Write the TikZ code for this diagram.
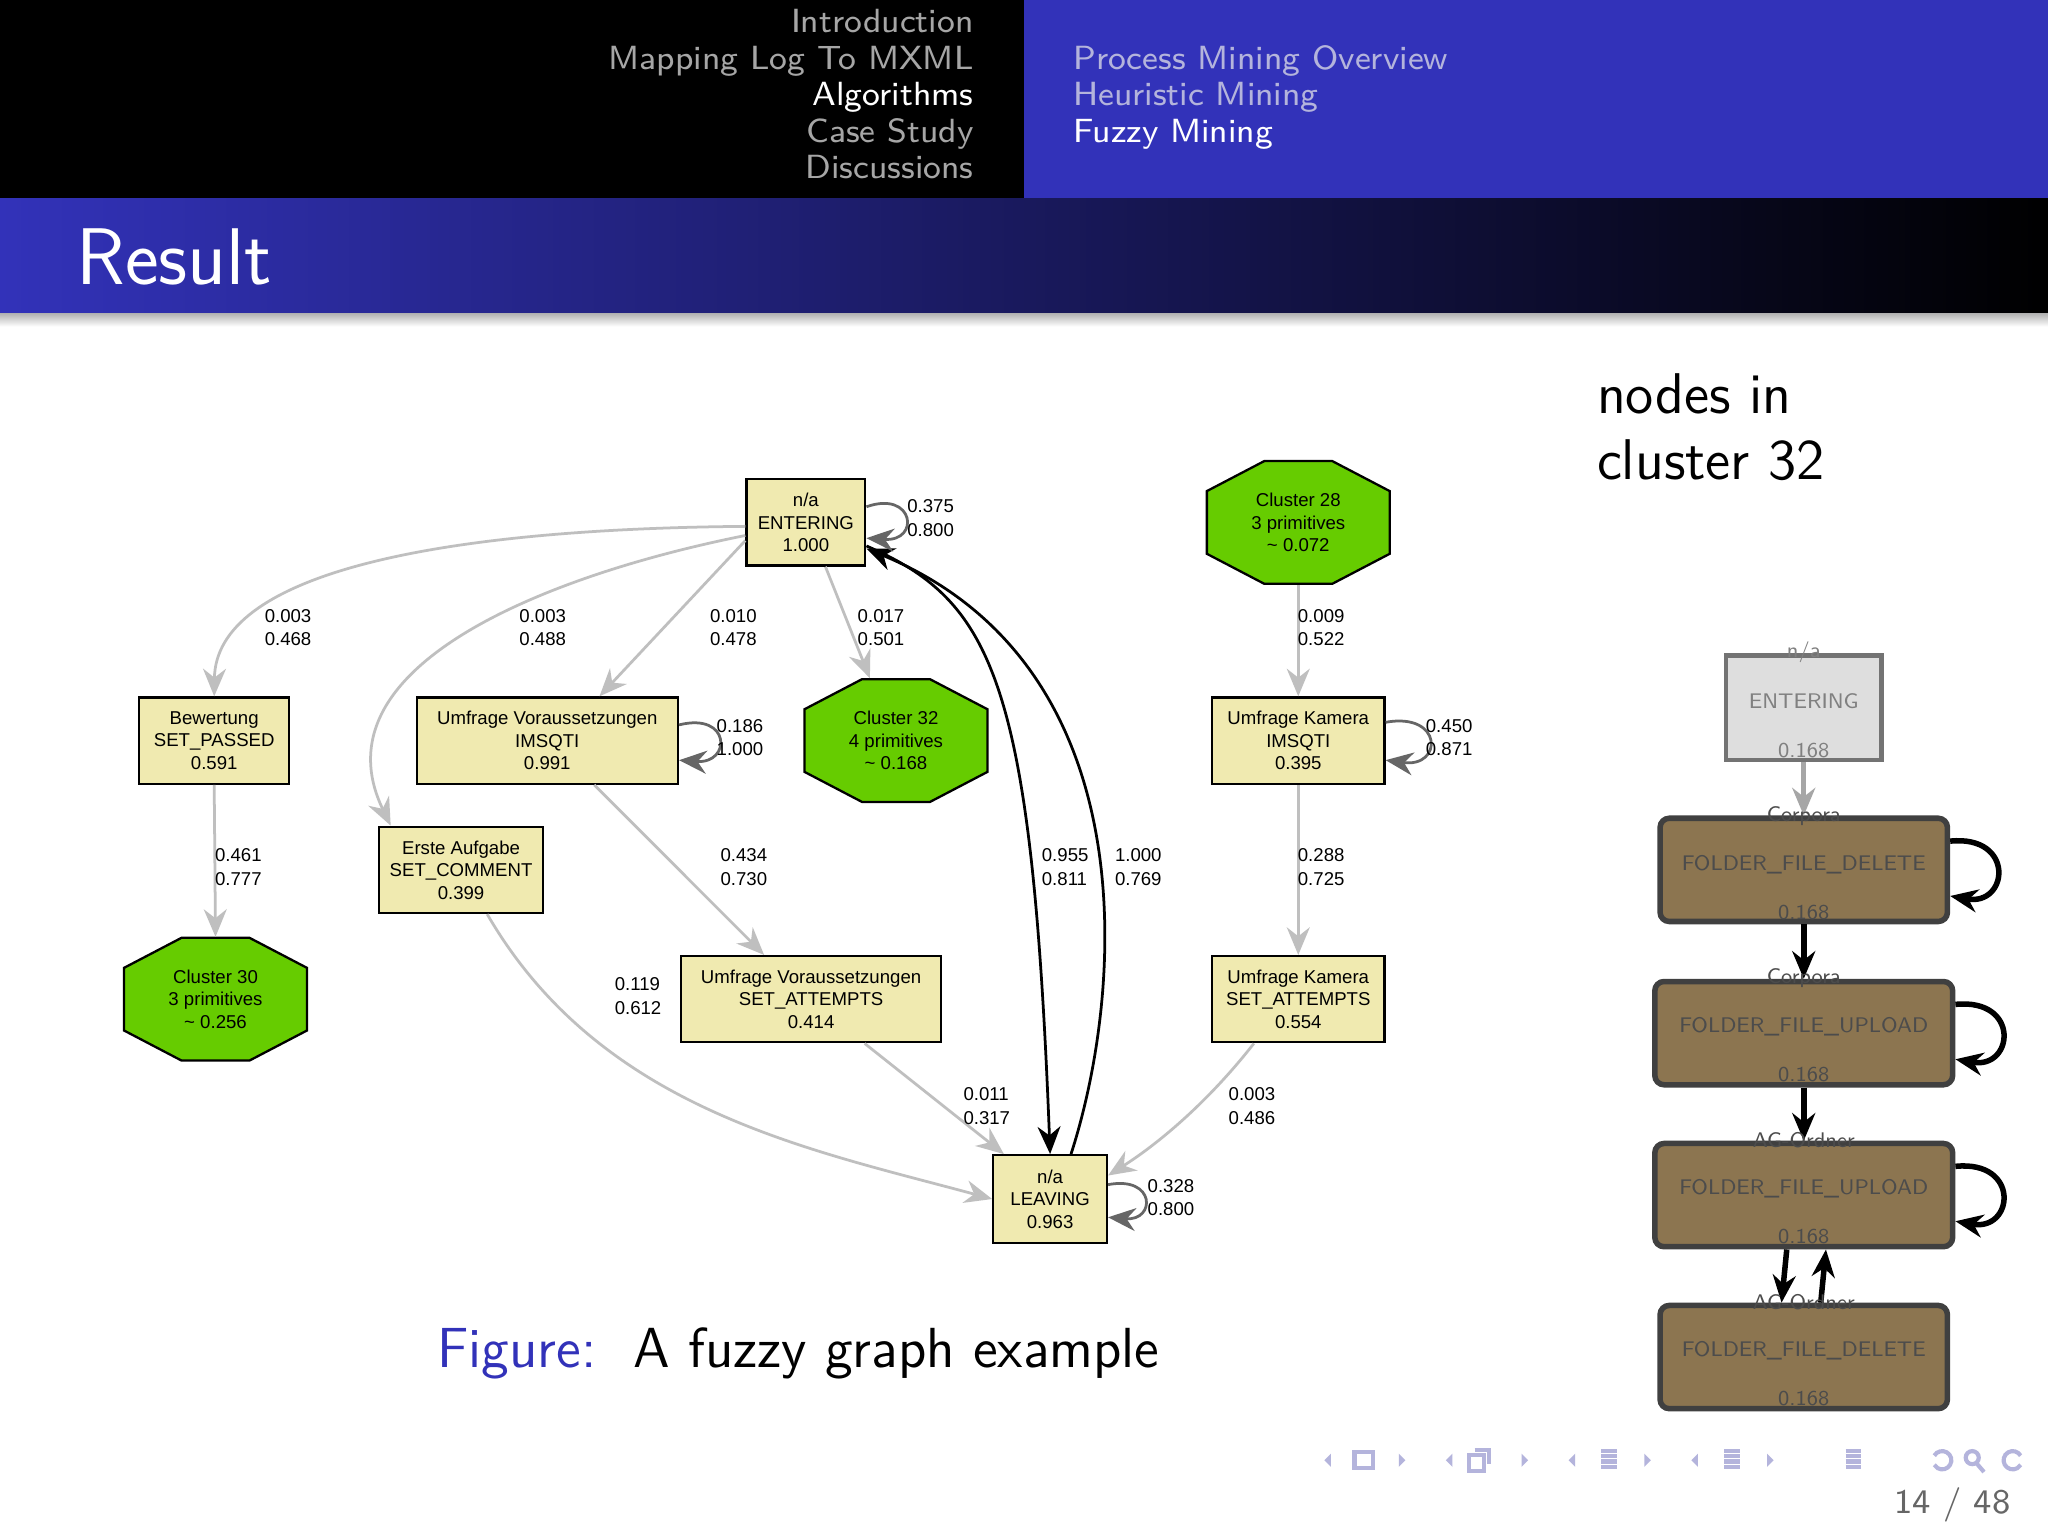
\documentclass[tikz,border=0pt]{standalone}
\usepackage{fontspec}
\newfontfamily\gf{Liberation Sans}
\usetikzlibrary{arrows.meta,calc}
\definecolor{hblue}{RGB}{50,50,185}
\definecolor{ngold}{RGB}{240,234,176}
\definecolor{ngreen}{RGB}{102,204,0}
\definecolor{brownf}{RGB}{140,117,80}
\definecolor{navc}{RGB}{180,180,220}
\tikzset{
 gtxt/.style={font=\gf\fontsize{4.05}{4.9}\selectfont,align=center},
 box/.style={gtxt,draw=black,line width=0.5pt,fill=ngold,minimum width=#1*0.01cm,minimum height=0.66cm,inner sep=0},
 lbl/.style={font=\gf\fontsize{4.05}{5.1}\selectfont,align=left,anchor=north west,inner sep=0},
 ge/.style={draw=black!25,line width=0.6pt,-{Stealth[length=6,width=5]}},
 be/.style={draw=black,line width=0.6pt,-{Stealth[length=6,width=5]}},
 hd/.style={font=\sffamily\fontsize{7.3}{9}\selectfont,inner sep=0},
 rb/.style={draw=black!75,line width=1.2pt,fill=brownf,rounded corners=2,inner sep=0,minimum height=0.79cm,minimum width=#1*0.01cm},
 rt/.style={font=\sffamily\fontsize{4.6}{6}\selectfont,text=black!70,inner sep=0},
}
\begin{document}
\begin{tikzpicture}[x=0.01cm,y=-0.01cm]
\useasboundingbox (0,0) rectangle (1568,1176);
\fill[white] (0,0) rectangle (1568,1176);
% header
\fill[black] (0,0) rectangle (784,152);
\fill[hblue] (784,0) rectangle (1568,152);
\shade[left color=hblue,right color=black] (0,152) rectangle (1568,240);
\shade[top color=black!30,bottom color=white] (0,240) rectangle (1568,250);
\node[hd,anchor=base east,text=black!35] (h1) at (746,25) {Introduction};
\node[hd,anchor=base east,text=black!35] (h2) at (746,53) {Mapping Log To MXML};
\node[hd,anchor=base east,text=white] (h3) at (746,81) {Algorithms};
\node[hd,anchor=base east,text=black!35] (h4) at (746,109) {Case Study};
\node[hd,anchor=base east,text=black!35] (h5) at (746,137) {Discussions};
\node[hd,anchor=base west,text=navc] (s1) at (821,53) {Process Mining Overview};
\node[hd,anchor=base west,text=navc] (s2) at (821,81) {Heuristic Mining};
\node[hd,anchor=base west,text=white] (s3) at (821,109) {Fuzzy Mining};
\node[font=\sffamily\fontsize{17.5}{20}\selectfont,text=white,anchor=west,inner sep=0] (title) at (58,197) {Result};
% graph nodes
\node[box=91] (ent) at (617,400) {n/a\\ENTERING\\1.000};
\node[box=115] (bew) at (164,567) {Bewertung\\SET\_PASSED\\0.591};
\node[box=200] (uv1) at (419,567) {Umfrage Voraussetzungen\\IMSQTI\\0.991};
\node[box=132] (uk1) at (994,567) {Umfrage Kamera\\IMSQTI\\0.395};
\node[box=126] (ea) at (353,666) {Erste Aufgabe\\SET\_COMMENT\\0.399};
\node[box=199] (uv2) at (621,765) {Umfrage Voraussetzungen\\SET\_ATTEMPTS\\0.414};
\node[box=132] (uk2) at (994,765) {Umfrage Kamera\\SET\_ATTEMPTS\\0.554};
\node[box=87,minimum height=0.67cm] (lv) at (804,918) {n/a\\LEAVING\\0.963};
\foreach \n/\cx/\cy/\t in {c32/686/567/{Cluster 32\\4 primitives\\\textasciitilde{} 0.168},c28/994/400/{Cluster 28\\3 primitives\\\textasciitilde{} 0.072},c30/165/765/{Cluster 30\\3 primitives\\\textasciitilde{} 0.256}}{
 \draw[fill=ngreen,line width=0.5pt] (\cx-26,\cy-47)--(\cx+26,\cy-47)--(\cx+70,\cy-24)--(\cx+70,\cy+24)--(\cx+26,\cy+47)--(\cx-26,\cy+47)--(\cx-70,\cy+24)--(\cx-70,\cy-24)--cycle;
 \node[gtxt,minimum width=1.4cm,minimum height=0.94cm,inner sep=0] (\n) at (\cx,\cy) {\t};
}
% edges
\draw[ge] ($(ent.west)+(0,3)$) .. controls (330,405) and (165,440) .. (bew.north);
\draw[ge] ($(ent.west)+(0,10)$) .. controls (420,440) and (240,510) .. ($(ea.north west)+(10,0)$);
\draw[ge] ($(ent.south west)+(0,-20)$) -- ($(uv1.north)+(40,0)$);
\draw[ge] ($(ent.south)+(15,0)$) -- ($(c32.north)+(-20,0)$);
\draw[ge] (c28.south) -- (uk1.north);
\draw[ge] (uk1.south) -- (uk2.north);
\draw[ge] (bew.south) -- (c30.north);
\draw[ge] ($(uv1.south)+(36,0)$) -- ($(uv2.north)+(-36,0)$);
\draw[ge] ($(uv2.south)+(41,0)$) -- ($(lv.north west)+(9,0)$);
\draw[ge] ($(ea.south)+(20,0)$) .. controls (460,850) and (620,880) .. (lv.west);
\draw[ge] ($(uk2.south)+(-34,0)$) .. controls (920,850) and (880,880) .. ($(lv.east)+(0,-18)$);
\draw[be] ($(ent.east)+(0,18)$) .. controls (760,460) and (790,520) .. (lv.north);
\draw[be] ($(lv.north)+(16,0)$) .. controls (860,760) and (880,510) .. ($(ent.east)+(0,20)$);
% self loops
\draw[ge,draw=black!60] ($(ent.east)+(0,-12)$) .. controls (700,375) and (705,415) .. ($(ent.east)+(0,12)$);
\draw[ge,draw=black!60] ($(uv1.east)+(0,-12)$) .. controls (560,545) and (560,585) .. ($(uv1.east)+(0,15)$);
\draw[ge,draw=black!60] ($(uk1.east)+(0,-14)$) .. controls (1105,545) and (1105,588) .. ($(uk1.east)+(0,15)$);
\draw[ge,draw=black!60] ($(lv.east)+(0,-11)$) .. controls (885,900) and (885,935) .. ($(lv.east)+(0,14)$);
% labels
\foreach \x/\y/\t in {694/382/{0.375\\0.800},202/466/{0.003\\0.468},397/466/{0.003\\0.488},543/466/{0.010\\0.478},656/466/{0.017\\0.501},993/466/{0.009\\0.522},548/550/{0.186\\1.000},1091/550/{0.450\\0.871},164/649/{0.461\\0.777},551/649/{0.434\\0.730},797/649/{0.955\\0.811},853/649/{1.000\\0.769},993/649/{0.288\\0.725},470/748/{0.119\\0.612},737/832/{0.011\\0.317},940/832/{0.003\\0.486},878/902/{0.328\\0.800}}
 \node[lbl] at (\x,\y) {\t};
% caption
\node[font=\sffamily\fontsize{12.3}{14}\selectfont,anchor=base west,inner sep=0] (cap) at (334,1047) {\textcolor{hblue}{Figure:}\ \ A fuzzy graph example};
\node[font=\sffamily\fontsize{12.5}{14.5}\selectfont,anchor=north west,align=left,inner sep=0] (nodes) at (1222,285) {nodes in\\cluster 32};
% cluster detail
\node[draw=black!55,line width=1pt,fill=black!13,minimum width=1.19cm,minimum height=0.8cm,inner sep=0] (ge0) at (1381,542) {};
\node[rt,text=black!50] at (1381,499) {n/a};
\node[rt,text=black!50] at (1381,537) {ENTERING};
\node[rt,text=black!50] at (1381,575) {0.168};
\node[rb=220] (b1) at (1381,666) {};
\node[rb=228] (b2) at (1381,791) {};
\node[rb=228] (b3) at (1381,915) {};
\node[rb=220] (b4) at (1381,1039) {};
\draw[ge,draw=black!35,line width=1pt] (ge0.south) -- (b1.north);
\draw[be,line width=1.2pt] (b1.south) -- (b2.north);
\draw[be,line width=1.2pt] (b2.south) -- (b3.north);
\draw[be,line width=1.2pt] ($(b3.south)+(-13,0)$) -- ($(b4.north)+(-17,0)$);
\draw[be,line width=1.2pt] ($(b4.north)+(13,0)$) -- ($(b3.south)+(17,0)$);
\foreach \b in {b1,b2,b3}
 \draw[be,line width=1.2pt] ($(\b.east)+(0,-22)$) .. controls ++(50,-5) and ++(45,8) .. ($(\b.east)+(0,20)$);
\foreach \y/\t in {625/Corpora,662/FOLDER\_FILE\_DELETE,699/0.168,749/Corpora,786/FOLDER\_FILE\_UPLOAD,823/0.168,873/AG-Ordner,910/FOLDER\_FILE\_UPLOAD,947/0.168,997/AG-Ordner,1034/FOLDER\_FILE\_DELETE,1071/0.168}
 \node[rt] at (1381,\y) {\t};
% navigation
\begin{scope}[navc,line width=0.9pt]
\foreach \x in {1015,1108,1202,1296}{\fill (\x+4,1113)--(\x+4,1123)--(\x-1,1118)--cycle;}
\foreach \x in {1073,1167,1261,1355}{\fill (\x-2,1113)--(\x-2,1123)--(\x+3,1118)--cycle;}
\draw (1037,1112) rectangle (1051,1124);
\draw (1125,1114) rectangle (1136,1126); \draw (1129,1110)--(1140,1110)--(1140,1121);
\foreach \x in {1232,1326,1419}{\foreach \dy in {0,4,8,12} \draw (\x-6,1111+\dy)--(\x+6,1111+\dy);}
\draw ($(1487,1118)+(-150:7)$) arc (-150:150:7);
\draw (1510,1116) circle (5); \draw (1513,1120)--(1519,1127);
\draw ($(1541,1118)+(-30:7)$) arc (-30:-330:7);
\end{scope}
\node[font=\sffamily\fontsize{7.5}{9}\selectfont,text=black!60,anchor=east,inner sep=0] (pg) at (1540,1152) {14 / 48};
\end{tikzpicture}
\end{document}
